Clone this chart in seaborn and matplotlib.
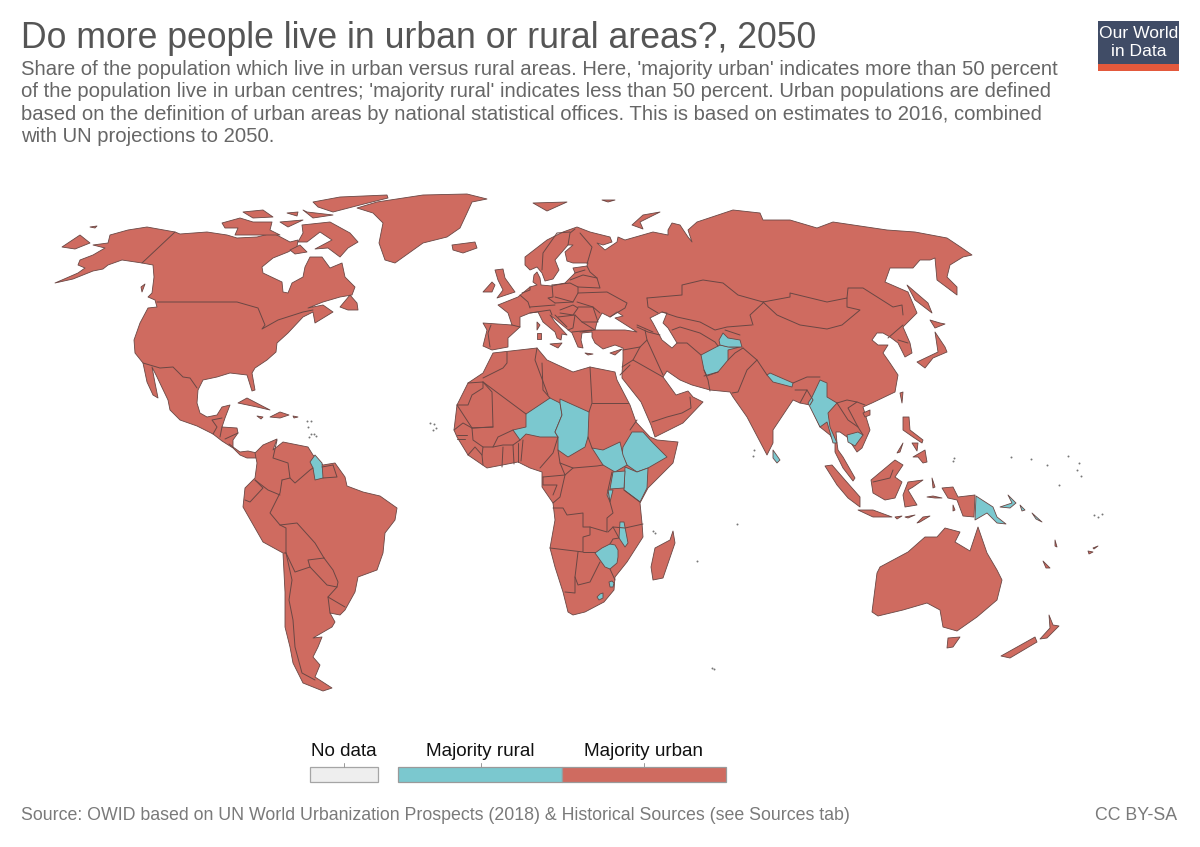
import pandas as pd
import matplotlib.pyplot as plt
import seaborn as sns

URBAN_COLOR = '#cf6b60'
RURAL_COLOR = '#7bc8cf'
EDGE_COLOR = '#6a4744'

TITLE = "Do more people live in urban or rural areas?, 2050"
SUBTITLE = [
    "Share of the population which live in urban versus rural areas. Here, 'majority urban' indicates more than 50 percent",
    "of the population live in urban centres; 'majority rural' indicates less than 50 percent. Urban populations are defined",
    "based on the definition of urban areas by national statistical offices. This is based on estimates to 2016, combined",
    "with UN projections to 2050.",
]
SOURCE = "Source: OWID based on UN World Urbanization Prospects (2018) & Historical Sources (see Sources tab)"
LICENCE = "CC BY-SA"
LEGEND_LABELS = ['No data', 'Majority rural', 'Majority urban']

# outlines, in map units
NORTH_AMERICA = [(93,245),(108,243),(110,235),(128,230),(147,227),(175,232),(180,234),(207,232),(227,235),(237,238),(257,237),(273,233),(290,242),(298,240),(297,247),(288,252),(273,258),(262,267),(263,273),(282,282),(283,292),(288,293),(292,283),(303,277),(305,267),(310,257),(322,257),(330,268),(342,263),(345,277),(355,287),(352,295),(340,297),(323,302),(308,308),(323,305),(333,312),(315,323),(313,312),(303,317),(288,333),(277,343),(276,352),(267,360),(255,368),(252,373),(255,390),(252,391),(247,375),(230,373),(217,377),(203,380),(198,390),(197,403),(200,413),(207,417),(217,415),(222,407),(230,405),(225,418),(222,427),(237,428),(238,433),(233,440),(233,447),(240,452),(248,451),(257,453),(256,458),(247,458),(240,455),(233,448),(222,441),(213,434),(197,426),(180,420),(170,410),(168,400),(157,377),(152,367),(155,383),(158,398),(153,395),(147,382),(143,363),(135,353),(134,340),(140,323),(148,308),(157,307),(155,300),(148,297),(152,293),(154,277),(153,265),(142,263),(122,260),(108,265),(103,269),(93,271),(73,279),(55,283),(78,273),(85,268),(78,265),(80,260),(93,255),(105,248)]
SOUTH_AMERICA = [(255,453),(263,445),(277,439),(273,450),(283,442),(308,447),(313,455),(323,465),(335,463),(345,477),(347,486),(363,492),(380,496),(397,508),(395,520),(385,533),(383,553),(377,570),(358,577),(355,592),(345,610),(340,615),(330,613),(335,622),(332,627),(313,638),(322,637),(318,647),(313,657),(320,665),(315,677),(332,688),(323,691),(303,683),(293,663),(290,647),(285,627),(285,592),(283,553),(263,542),(243,507),(245,488),(255,478),(257,463)]
AFRICA = [(493,353),(537,348),(547,360),(573,372),(590,367),(615,372),(617,380),(630,405),(636,422),(650,437),(657,440),(678,442),(673,463),(648,488),(640,503),(642,523),(643,537),(627,562),(615,577),(614,590),(604,602),(585,612),(573,615),(568,612),(563,592),(555,567),(550,548),(555,520),(553,503),(542,487),(542,472),(530,468),(518,462),(487,468),(468,455),(457,437),(454,430),(457,405),(468,383),(483,373)]
EURASIA = [(483,323),(512,325),(508,313),(498,305),(518,297),(530,287),(537,285),(533,282),(534,275),(537,272),(540,278),(541,285),(552,286),(565,283),(571,277),(575,273),(573,268),(587,266),(588,263),(573,263),(567,261),(565,252),(573,245),(568,245),(555,260),(559,270),(553,279),(545,281),(542,273),(537,267),(530,270),(525,265),(525,257),(547,240),(563,232),(577,227),(590,232),(610,237),(612,242),(603,245),(597,243),(605,250),(617,242),(618,237),(625,240),(653,232),(668,235),(668,230),(672,223),(680,225),(688,237),(692,242),(688,230),(697,222),(733,210),(760,213),(763,220),(790,220),(817,228),(833,222),(887,230),(915,232),(947,238),(962,248),(972,255),(963,257),(950,265),(947,277),(957,287),(957,295),(937,280),(935,258),(930,260),(920,260),(913,268),(890,268),(885,282),(908,292),(917,313),(903,327),(910,343),(912,353),(905,357),(898,343),(890,337),(883,333),(877,333),(872,340),(878,345),(888,345),(883,353),(890,363),(898,375),(895,392),(872,403),(863,407),(870,430),(862,448),(857,452),(847,437),(840,432),(836,432),(837,443),(838,450),(843,457),(855,478),(853,481),(843,468),(835,452),(835,443),(830,435),(820,427),(810,405),(800,403),(793,400),(773,430),(773,443),(767,455),(747,417),(733,397),(730,392),(710,390),(692,385),(680,380),(667,371),(663,377),(676,395),(688,391),(693,397),(703,402),(683,423),(655,437),(651,425),(641,402),(622,378),(622,373),(623,360),(623,348),(615,345),(603,349),(595,343),(592,337),(592,332),(582,333),(581,340),(583,348),(578,347),(572,333),(550,315),(555,322),(567,335),(562,334),(561,340),(557,338),(555,332),(543,322),(538,312),(530,313),(520,317),(520,327),(508,338),(508,347),(492,350),(483,346),(487,330)]
URBAN_ISLANDS = [
    [(302,225),(330,222),(350,233),(358,242),(348,248),(340,257),(328,248),(315,249),(332,240),(320,232),(307,242),(298,242),(303,233)],
    [(222,223),(240,218),(253,222),(272,222),(270,230),(280,235),(257,235),(235,235),(238,228),(225,228)],
    [(243,212),(263,210),(273,217),(253,218)],
    [(280,222),(303,220),(288,227)],
    [(287,213),(298,212),(297,216)],
    [(307,212),(333,215),(313,218),(303,210)],
    [(313,202),(340,197),(387,195),(388,198),(360,205),(333,212),(318,207)],
    [(290,250),(300,245),(307,252),(295,254)],
    [(340,307),(350,295),(357,303),(358,310),(348,310)],
    [(141,287),(145,284),(142,292)],
    [(357,208),(377,202),(423,195),(467,194),(487,199),(472,202),(467,213),(460,228),(447,237),(423,243),(402,258),(395,263),(385,260),(379,243),(383,223),(373,213)],
    [(452,245),(475,242),(477,248),(463,253),(453,250)],
    [(238,403),(247,398),(270,410),(257,407)],
    [(270,417),(280,412),(289,415),(280,418)],
    [(257,416),(263,417),(261,419)],
    [(293,416),(298,417),(294,418)],
    [(62,247),(80,235),(90,243),(75,249)],
    [(90,227),(97,226),(95,228)],
    [(550,344),(562,343),(558,348)],
    [(537,333),(541,333),(541,339),(537,339)],
    [(537,322),(540,325),(537,330)],
    [(495,270),(503,269),(505,278),(515,292),(497,298),(503,290),(498,280)],
    [(483,292),(492,282),(495,285),(492,292)],
    [(533,203),(567,202),(547,211)],
    [(602,200),(615,200),(608,202)],
    [(632,225),(643,215),(660,212),(640,222),(643,229)],
    [(610,353),(622,349),(615,355)],
    [(585,353),(593,354),(588,355)],
    [(907,285),(928,303),(932,313),(915,300)],
    [(917,362),(938,352),(935,332),(945,347),(947,352),(933,358),(925,368)],
    [(930,320),(940,323),(945,324),(935,328)],
    [(900,393),(903,392),(902,403)],
    [(863,413),(870,410),(870,415),(865,417)],
    [(903,417),(909,417),(910,430),(923,440),(922,443),(913,437),(903,430)],
    [(913,457),(925,450),(927,462),(923,463),(918,457)],
    [(912,443),(918,443),(917,451)],
    [(897,453),(903,443),(900,452)],
    [(825,466),(832,465),(845,480),(860,497),(860,507),(848,498),(837,485)],
    [(858,510),(873,510),(892,517),(873,517)],
    [(895,517),(902,516),(897,519)],
    [(905,517),(915,515),(908,518)],
    [(917,523),(923,517),(930,516),(920,522)],
    [(871,480),(895,460),(903,465),(895,477),(902,482),(895,498),(885,500),(873,493)],
    [(908,482),(923,480),(913,487),(908,490),(917,505),(905,507),(903,495)],
    [(932,478),(935,487),(933,488)],
    [(927,497),(933,496),(942,498),(935,498)],
    [(953,505),(955,510),(953,511)],
    [(942,488),(953,487),(958,497),(975,495),(974,517),(963,516),(957,500),(948,498)],
    [(872,612),(877,573),(880,567),(908,552),(925,537),(937,537),(945,528),(960,532),(955,542),(970,551),(978,527),(987,553),(997,570),(1002,580),(997,600),(977,617),(957,631),(943,627),(940,610),(927,603),(903,610),(878,616)],
    [(948,638),(960,637),(953,647),(947,648)],
    [(1049,615),(1053,625),(1059,626),(1047,638),(1040,639),(1050,628)],
    [(1001,656),(1035,637),(1037,642),(1010,658)],
    [(673,531),(675,543),(663,578),(653,580),(651,567),(655,548),(670,540)],
    [(1055,540),(1057,547),(1055,546)],
    [(1043,561),(1050,568),(1046,568)],
    [(1088,551),(1093,552),(1089,554)],
    [(1093,548),(1098,546),(1094,549)],
]
BLACK_SEA = [(595,330),(597,322),(602,313),(610,317),(617,312),(623,316),(615,318),(637,332),(625,330),(600,330)]
CASPIAN = [(650,318),(662,312),(667,313),(663,323),(668,328),(677,343),(672,348),(662,340),(653,323)]
NIGER = [(513,430),(526,427),(526,414),(550,398),(560,403),(562,415),(555,432),(558,437),(540,437),(526,434),(520,440)]
CHAD = [(560,399),(589,412),(588,437),(585,447),(568,457),(558,450),(558,437),(555,432),(562,415),(560,403)]
ETHIOPIA = [(632,432),(643,432),(653,443),(667,457),(648,468),(637,472),(627,465),(622,455),(623,447)]
SOUTH_SUDAN = [(592,448),(603,450),(620,442),(623,455),(627,465),(615,472),(603,465)]
KENYA = [(625,467),(637,472),(648,468),(647,488),(640,502),(624,490)]
UGANDA = [(613,472),(625,471),(624,488),(610,489)]
BURUNDI = [(608,490),(613,490),(610,502),(607,495)]
MALAWI = [(620,522),(624,522),(628,543),(625,547),(619,538)]
ZIMBABWE = [(595,553),(602,548),(610,544),(615,545),(618,550),(618,557),(617,563),(610,569),(605,567),(600,560)]
ESWATINI = [(609,582),(612,581),(614,583),(613,587),(610,587)]
LESOTHO = [(597,597),(600,594),(603,593),(603,598),(599,600)]
GUYANA = [(310,462),(315,455),(322,463),(323,478),(315,480),(313,468)]
SRI_LANKA = [(773,450),(780,460),(777,463),(773,458)]
MYANMAR = [(808,403),(812,397),(820,380),(827,383),(827,397),(837,403),(828,413),(830,427),(837,443),(833,443),(827,422),(820,427),(813,413)]
NEPAL = [(767,375),(770,373),(793,383),(792,387),(773,382)]
AFGHANISTAN = [(701,355),(720,345),(730,347),(740,347),(728,350),(728,360),(718,372),(707,376),(704,370)]
TAJIKISTAN = [(719,340),(723,333),(728,338),(740,340),(742,347),(728,347),(720,345)]
CAMBODIA = [(847,435),(858,432),(863,435),(855,446),(848,442)]
PNG = [(976,496),(993,507),(997,517),(1006,524),(997,523),(987,513),(975,520)]
NEW_BRITAIN = [(1000,507),(1012,503),(1008,495),(1016,503),(1010,508)]
SOLOMONS_A = [(1020,505),(1025,510),(1022,511)]
SOLOMONS_B = [(1032,513),(1042,522),(1036,519)]

BORDERS = [
    [(175,232),(142,263)],
    [(157,302),(237,302),(258,308),(265,325),(262,329),(278,320),(303,312),(313,310)],
    [(143,363),(160,368),(173,367),(183,377),(190,378),(197,388)],
    [(222,418),(212,420),(217,427),(213,434)],
    [(222,427),(220,437)],
    [(238,433),(225,439)],
    [(233,447),(229,444)],
    [(277,440),(273,458),(288,463),(290,478),(282,480)],
    [(290,478),(295,483),(310,470),(313,468)],
    [(323,478),(337,477),(333,465)],
    [(322,467),(333,465)],
    [(282,480),(280,493),(270,513),(280,525),(297,523),(315,543),(324,558)],
    [(245,500),(250,502),(263,488),(255,480)],
    [(255,480),(268,490),(280,495)],
    [(280,525),(286,528),(286,553),(284,553)],
    [(286,553),(295,572),(310,567),(308,560),(324,558)],
    [(310,567),(327,585),(337,587),(338,582),(333,570),(324,558)],
    [(286,553),(292,580),(289,600),(293,620),(295,647),(302,673),(315,680)],
    [(337,587),(328,597),(345,607)],
    [(328,597),(330,613)],
    [(507,352),(507,363),(503,368),(483,378)],
    [(457,405),(468,405),(472,395),(483,388),(483,382),(468,383)],
    [(483,382),(492,392),(493,427),(472,428),(457,405)],
    [(483,382),(526,414)],
    [(537,348),(535,360),(548,395)],
    [(542,363),(543,390),(550,398)],
    [(590,367),(592,403),(589,412)],
    [(592,403),(628,403)],
    [(630,430),(637,420)],
    [(472,428),(493,427)],
    [(513,430),(498,437),(493,447),(483,447),(473,440),(472,428)],
    [(454,430),(463,423),(472,428)],
    [(457,435),(467,435)],
    [(457,439),(465,439)],
    [(468,455),(475,447),(482,455),(483,465)],
    [(483,447),(482,455)],
    [(503,447),(502,467)],
    [(493,447),(503,445),(513,445),(520,440)],
    [(513,445),(514,464)],
    [(518,443),(518,462)],
    [(523,440),(521,461)],
    [(558,437),(553,453),(540,468)],
    [(558,450),(560,463),(565,475),(543,477)],
    [(560,463),(573,468),(597,466),(603,465)],
    [(573,468),(565,475),(560,497),(553,503)],
    [(543,477),(543,485),(557,485),(553,495)],
    [(612,472),(608,490),(610,502),(613,513),(607,518),(607,532),(590,527),(583,527),(583,513),(567,515),(563,508),(553,508)],
    [(550,548),(583,552),(583,537),(590,535),(590,527)],
    [(583,552),(595,552)],
    [(610,544),(613,539),(619,538),(613,527),(608,532)],
    [(613,527),(625,528),(643,524)],
    [(610,569),(615,580)],
    [(578,552),(575,577),(575,593),(565,592)],
    [(575,577),(578,585),(590,582),(600,562)],
    [(592,448),(588,437)],
    [(640,502),(624,490)],
    [(647,298),(682,295),(682,285),(703,280),(723,283),(738,295),(763,302)],
    [(647,298),(648,307),(658,313)],
    [(763,303),(750,315),(753,325)],
    [(662,312),(677,317),(700,322),(715,330),(727,327),(752,325)],
    [(672,330),(680,327),(700,333),(715,342),(718,346)],
    [(677,343),(687,343),(701,355)],
    [(704,370),(708,380),(710,391)],
    [(743,348),(757,360),(747,370),(738,392),(732,393)],
    [(728,360),(735,353),(743,348)],
    [(718,372),(704,376)],
    [(757,360),(767,375)],
    [(793,383),(807,377),(820,377)],
    [(725,330),(740,335)],
    [(763,302),(790,297),(790,293),(827,302),(847,298),(847,307),(860,310),(842,325),(827,329),(800,325),(777,315),(763,302)],
    [(847,298),(848,288),(863,288),(893,307),(902,305),(903,315)],
    [(903,325),(888,338)],
    [(898,340),(908,343)],
    [(645,330),(647,340),(640,347),(623,350)],
    [(637,327),(648,332),(660,335)],
    [(647,340),(663,375)],
    [(633,360),(663,377)],
    [(640,347),(633,360),(622,367)],
    [(620,375),(630,365)],
    [(652,422),(667,417),(682,413),(691,408),(690,397)],
    [(837,403),(847,400),(857,402),(848,408),(858,427),(863,435)],
    [(837,403),(848,420),(858,427)],
    [(857,402),(865,405)],
    [(795,390),(807,390),(800,403)],
    [(807,390),(813,400),(810,405)],
    [(873,482),(890,478),(893,470)],
    [(542,270),(543,253),(557,233),(570,232)],
    [(568,245),(570,233),(575,229)],
    [(580,233),(592,247),(587,264)],
    [(491,325),(488,333),(490,347)],
    [(512,325),(520,327)],
    [(520,295),(528,302),(530,308)],
    [(522,293),(530,290),(530,287)],
    [(552,285),(553,297),(548,298),(555,303)],
    [(530,307),(555,305)],
    [(552,285),(570,283),(578,287),(578,293),(573,302),(555,297)],
    [(578,287),(600,288),(597,278),(583,275),(570,280)],
    [(587,266),(590,272),(597,278)],
    [(575,273),(585,270)],
    [(578,293),(607,292),(627,303),(625,308),(610,317)],
    [(577,302),(593,307),(600,313)],
    [(555,303),(573,302)],
    [(560,310),(573,305),(578,308),(573,315),(560,313)],
    [(578,307),(593,307),(598,322),(582,322),(575,315)],
    [(582,322),(595,330),(580,332)],
    [(530,313),(550,310),(552,315)],
    [(558,317),(575,315),(573,328),(568,330)],
    [(555,315),(567,327)],
    [(572,332),(592,330)],
    [(637,325),(653,332)],
]
SMALL_ISLANDS_X = [307,311,308,311,314,309,316,430,434,436,433,653,655,697,737,754,753,1068,1098,1102,954,953,1011,1031,1047,1079,712,714,1059,1077,1081,1094]
SMALL_ISLANDS_Y = [421,421,427,434,434,437,436,423,424,428,430,531,533,561,524,450,456,456,517,514,458,461,457,459,465,463,668,669,485,470,476,515]


def draw_shape(ax, points, color):
    xs, ys = zip(*points)
    ax.fill(xs, ys, facecolor=color, edgecolor=EDGE_COLOR, linewidth=0.6, joinstyle='round')


sns.set_theme(style="white")
plt.rcParams['font.family'] = ['Liberation Sans', 'DejaVu Sans']

fig = plt.figure(figsize=(12, 8.47), dpi=100)
ax = fig.add_axes([0, 0, 1, 1])

for shape in [NORTH_AMERICA, SOUTH_AMERICA, AFRICA, EURASIA] + URBAN_ISLANDS:
    draw_shape(ax, shape, URBAN_COLOR)
for shape in [BLACK_SEA, CASPIAN]:
    draw_shape(ax, shape, 'white')

rows = [(i, x, y) for i, line in enumerate(BORDERS) for x, y in line]
border_df = pd.DataFrame(rows, columns=['line', 'x', 'y'])
sns.lineplot(data=border_df, x='x', y='y', units='line', estimator=None, sort=False,
             color=EDGE_COLOR, linewidth=0.7, legend=False, ax=ax)

for shape in [NIGER, CHAD, ETHIOPIA, SOUTH_SUDAN, KENYA, UGANDA, BURUNDI, MALAWI, ZIMBABWE,
              ESWATINI, LESOTHO, GUYANA, SRI_LANKA, MYANMAR, NEPAL, AFGHANISTAN, TAJIKISTAN,
              CAMBODIA, PNG, NEW_BRITAIN, SOLOMONS_A, SOLOMONS_B]:
    draw_shape(ax, shape, RURAL_COLOR)

sns.scatterplot(x=SMALL_ISLANDS_X, y=SMALL_ISLANDS_Y, s=2, color='#777777', linewidth=0, ax=ax)

# legend
ax.barh(774.5, 68, left=310, height=15, color='#eeeeee', edgecolor='#a5a5a5', linewidth=0.9)
ax.barh(774.5, 164, left=398, height=15, color=RURAL_COLOR, edgecolor='#9a9a9a', linewidth=0.9)
ax.barh(774.5, 164, left=562, height=15, color=URBAN_COLOR, edgecolor='#9a9a9a', linewidth=0.9)
for label, x in zip(LEGEND_LABELS, [344, 480.5, 644]):
    ax.plot([x, x], [763, 767], color='#999999', linewidth=0.7)
    ax.text(x, 752, label, ha='center', va='center', fontsize=13.6, color='#111111')

# header and footer
ax.text(21, 39, TITLE, fontsize=25.66, color='#555555', va='center', ha='left')
for i, line in enumerate(SUBTITLE):
    ax.text(21, 69.5 + i * 22.4, line, fontsize=14.61, color='#666666', va='center', ha='left')
ax.text(21, 815, SOURCE, fontsize=12.78, color='#7a7a7a', va='center', ha='left')
ax.text(1177, 815, LICENCE, fontsize=12.75, color='#7a7a7a', va='center', ha='right')

# logo
ax.barh(42.5, 81, left=1098, height=43, color='#404c66', linewidth=0)
ax.barh(67.5, 81, left=1098, height=7, color='#e3593c', linewidth=0)
ax.text(1138.5, 34, 'Our World', fontsize=12.6, color='white', ha='center', va='center')
ax.text(1138.5, 52, 'in Data', fontsize=12.6, color='white', ha='center', va='center')

ax.set_xlim(0, 1200)
ax.set_ylim(847, 0)
ax.axis('off')

fig.savefig('out.png', dpi=100, facecolor='white')
